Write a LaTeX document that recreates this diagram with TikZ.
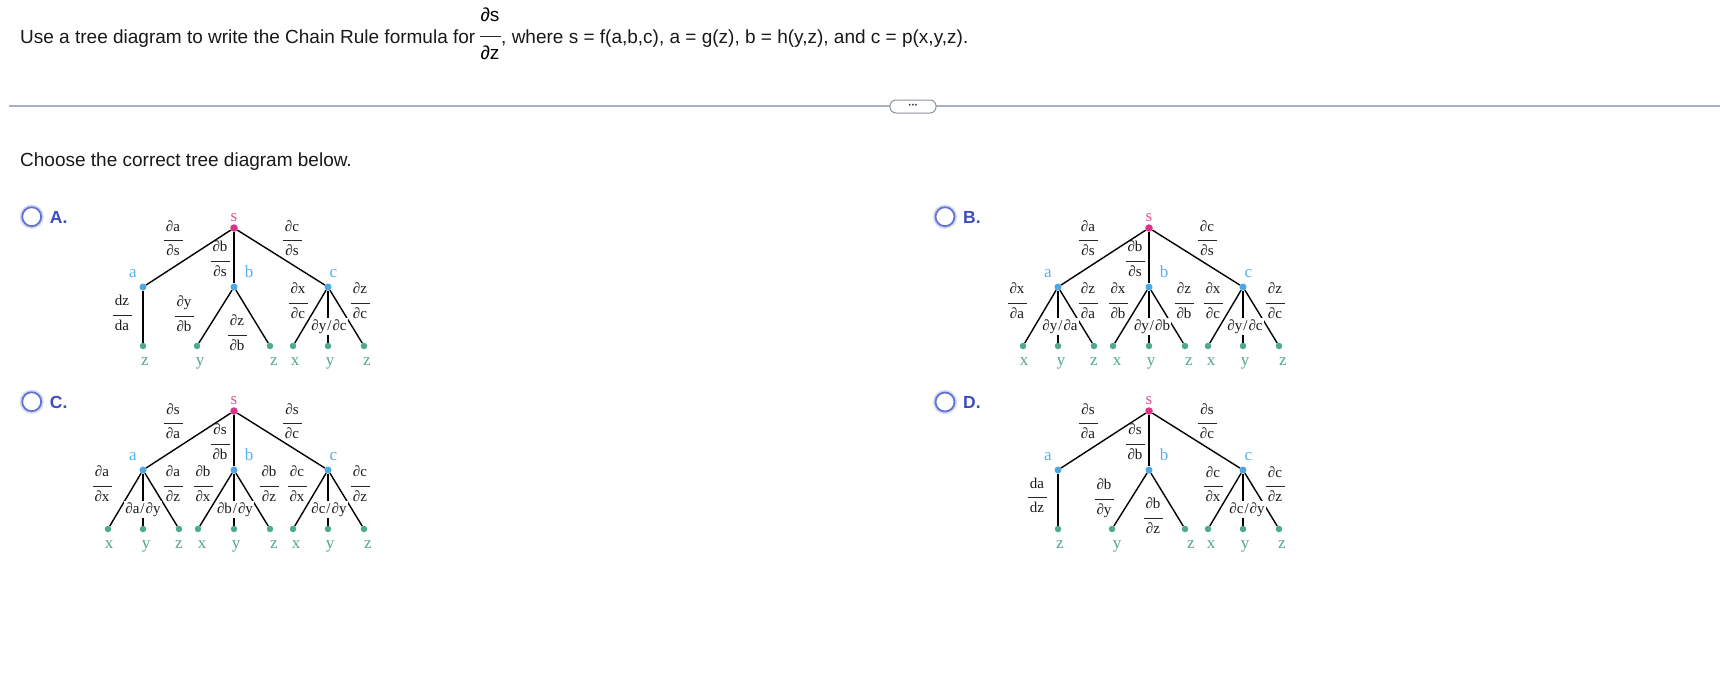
\documentclass[tikz,border=0pt]{standalone}
\usepackage{fontspec}
\setmainfont{Liberation Serif}
\newfontfamily\arialf{Liberation Sans}
\usetikzlibrary{calc}
\definecolor{spink}{RGB}{218,52,134}
\definecolor{spinkt}{RGB}{228,80,152}
\definecolor{mblue}{RGB}{74,168,230}
\definecolor{mbluet}{RGB}{86,178,236}
\definecolor{lgreen}{RGB}{78,170,138}
\definecolor{lgreent}{RGB}{80,168,140}
\definecolor{radio}{RGB}{96,114,214}
\definecolor{radiohalo}{RGB}{212,218,243}
\definecolor{optc}{RGB}{60,78,190}
\definecolor{sepc}{RGB}{168,176,194}
\definecolor{btnc}{RGB}{140,146,160}
\tikzset{
  sdot/.style={circle,fill=spink,inner sep=0pt,minimum size=7.5pt},
  mdot/.style={circle,fill=mblue,inner sep=0pt,minimum size=7pt},
  ldot/.style={circle,fill=lgreen,inner sep=0pt,minimum size=6.5pt},
  edge/.style={line width=1.4pt,black},
  fbar/.style={line width=0.8pt,black!85},
  elab/.style={font=\fontsize{15}{15}\selectfont,inner sep=0pt,text=black!90},
  ilab/.style={elab,fill=white,inner sep=1pt},
  slab/.style={font=\fontsize{17}{17}\selectfont,inner sep=0pt,text=spinkt,anchor=base},
  mlab/.style={font=\fontsize{17}{17}\selectfont,inner sep=0pt,text=mbluet,anchor=base},
  llab/.style={font=\fontsize{17}{17}\selectfont,inner sep=0pt,text=lgreent,anchor=base},
  ttl/.style={font=\arialf\fontsize{19}{19}\selectfont,inner sep=0pt,anchor=base west,text=black!90},
  opt/.style={font=\arialf\bfseries\fontsize{17.5}{17.5}\selectfont,inner sep=0pt,anchor=base west,text=optc},
  radioring/.style={circle,draw=radio,line width=1.8pt,inner sep=0pt,minimum size=19pt},
}
\newcommand\efrac[5]{%
  \node[elab,anchor=base] (#1n) at (#2,#3-9.3) {#4};
  \node[elab,anchor=base] (#1d) at (#2,#3+15) {#5};
  \draw[fbar] (#2-9.5,#3) -- (#2+9.5,#3);
}
\newcommand\topnodes[1]{%
  \node[sdot] (#1s) at (0,0) {};
  \node[slab] (#1sl) at (0,-7) {s};
  \node[mdot] (#1a) at (-91,59) {};
  \node[mlab] (#1al) at (-101,49) {a};
  \node[mdot] (#1b) at (0,59) {};
  \node[mlab] (#1bl) at (15,49) {b};
  \node[mdot] (#1c) at (94,59) {};
  \node[mlab] (#1cl) at (99.5,49) {c};
  \draw[edge] (#1s) -- (#1a);
  \draw[edge] (#1s) -- (#1b);
  \draw[edge] (#1s) -- (#1c);
}
% leaf: prefix, name, parent, dot x, label x, letter
\newcommand\leaf[6]{%
  \node[ldot] (#1#2) at (#4,118) {};
  \node[llab] (#1#2t) at (#5,137) {#6};
  \draw[edge] (#1#3) -- (#1#2);
}
\newcommand\radiobtn[4]{% name, x, y, letter
  \node[circle,draw=radiohalo,line width=1.6pt,inner sep=0pt,minimum size=22.5pt] (#1h) at (#2,#3) {};
  \node[radioring] (#1r) at (#2,#3) {};
  \node[opt] (#1t) at (#2+18,#3+6.3) {#4.};
}
\begin{document}
\begin{tikzpicture}[x=1pt,y=-1pt]
\fill[white] (0,0) rectangle (1720,678);
\useasboundingbox (0,0) rectangle (1720,678);
% title
\node[ttl] (t1) at (20,43) {Use a tree diagram to write the Chain Rule formula for};
\node[font=\arialf\fontsize{19}{19}\selectfont,inner sep=0pt,anchor=base] (tfn) at (490,21.5) {∂s};
\node[font=\arialf\fontsize{19}{19}\selectfont,inner sep=0pt,anchor=base] (tfd) at (490,59.5) {∂z};
\draw[line width=0.9pt,black!85] (479.5,36) -- (500.5,36);
\node[ttl] (t2) at (501,43) {, where s = f(a,b,c), a = g(z), b = h(y,z), and c = p(x,y,z).};
% separator
\draw[sepc,line width=1.6pt] (9,106) -- (1720,106);
\node[draw=btnc,fill=white,line width=1pt,rounded corners=6pt,minimum width=46pt,minimum height=13pt,inner sep=0pt] (btn) at (913,106.5) {};
\node[inner sep=0pt,font=\arialf\fontsize{7}{7}\selectfont,text=black!75] (btnd) at (913,106) {\textbullet\kern0.6pt\textbullet\kern0.6pt\textbullet};
\node[ttl] (choose) at (20,166) {Choose the correct tree diagram below.};
% radio buttons
\radiobtn{rA}{31.7}{216.7}{A}
\radiobtn{rB}{945}{216.7}{B}
\radiobtn{rC}{31.7}{401.7}{C}
\radiobtn{rD}{945}{402}{D}
% ---------- Tree A
\begin{scope}[shift={(234,228)}]
\topnodes{A-}
\leaf{A-}{l1}{a}{-91}{-89}{z}
\leaf{A-}{l2}{b}{-37}{-34}{y}
\leaf{A-}{l3}{b}{36}{40}{z}
\leaf{A-}{l4}{c}{59}{61}{x}
\leaf{A-}{l5}{c}{94}{96}{y}
\leaf{A-}{l6}{c}{130}{133}{z}
\efrac{A-f1}{-61}{12.5}{∂a}{∂s}
\efrac{A-f2}{-14}{33}{∂b}{∂s}
\efrac{A-f3}{58}{12.5}{∂c}{∂s}
\efrac{A-f4}{-112}{87}{dz}{da}
\efrac{A-f5}{-50}{88}{∂y}{∂b}
\efrac{A-f6}{3}{107}{∂z}{∂b}
\efrac{A-f7}{64}{75}{∂x}{∂c}
\efrac{A-f8}{126}{75}{∂z}{∂c}
\node[ilab] (A-i1) at (95,98.5) {∂y\kern1pt/\kern1pt∂c};
\end{scope}
% ---------- Tree B
\begin{scope}[shift={(1149,228)}]
\topnodes{B-}
\leaf{B-}{l1}{a}{-126}{-125}{x}
\leaf{B-}{l2}{a}{-91}{-88}{y}
\leaf{B-}{l3}{a}{-55}{-55}{z}
\leaf{B-}{l4}{b}{-36}{-32}{x}
\leaf{B-}{l5}{b}{0}{2}{y}
\leaf{B-}{l6}{b}{36}{40}{z}
\leaf{B-}{l7}{c}{59}{62}{x}
\leaf{B-}{l8}{c}{94}{96}{y}
\leaf{B-}{l9}{c}{130}{134}{z}
\efrac{B-f1}{-61}{12.5}{∂a}{∂s}
\efrac{B-f2}{-14}{33}{∂b}{∂s}
\efrac{B-f3}{58}{12.5}{∂c}{∂s}
\efrac{B-f4}{-132}{75}{∂x}{∂a}
\efrac{B-f5}{-61}{75}{∂z}{∂a}
\efrac{B-f6}{-31}{75}{∂x}{∂b}
\efrac{B-f7}{35}{75}{∂z}{∂b}
\efrac{B-f8}{64}{75}{∂x}{∂c}
\efrac{B-f9}{126}{75}{∂z}{∂c}
\node[ilab] (B-i1) at (-89,98.5) {∂y\kern1pt/\kern1pt∂a};
\node[ilab] (B-i2) at (3,98.5) {∂y\kern1pt/\kern1pt∂b};
\node[ilab] (B-i3) at (96,98.5) {∂y\kern1pt/\kern1pt∂c};
\end{scope}
% ---------- Tree C
\begin{scope}[shift={(234,411)}]
\topnodes{C-}
\leaf{C-}{l1}{a}{-126}{-125}{x}
\leaf{C-}{l2}{a}{-91}{-88}{y}
\leaf{C-}{l3}{a}{-55}{-55}{z}
\leaf{C-}{l4}{b}{-36}{-32}{x}
\leaf{C-}{l5}{b}{0}{2}{y}
\leaf{C-}{l6}{b}{36}{40}{z}
\leaf{C-}{l7}{c}{59}{62}{x}
\leaf{C-}{l8}{c}{94}{96}{y}
\leaf{C-}{l9}{c}{130}{134}{z}
\efrac{C-f1}{-61}{12.5}{∂s}{∂a}
\efrac{C-f2}{-14}{33}{∂s}{∂b}
\efrac{C-f3}{58}{12.5}{∂s}{∂c}
\efrac{C-f4}{-132}{75}{∂a}{∂x}
\efrac{C-f5}{-61}{75}{∂a}{∂z}
\efrac{C-f6}{-31}{75}{∂b}{∂x}
\efrac{C-f7}{35}{75}{∂b}{∂z}
\efrac{C-f8}{63}{75}{∂c}{∂x}
\efrac{C-f9}{126}{75}{∂c}{∂z}
\node[ilab] (C-i1) at (-91,98.5) {∂a\kern1pt/\kern1pt∂y};
\node[ilab] (C-i2) at (1,98.5) {∂b\kern1pt/\kern1pt∂y};
\node[ilab] (C-i3) at (95,98.5) {∂c\kern1pt/\kern1pt∂y};
\end{scope}
% ---------- Tree D
\begin{scope}[shift={(1149,411)}]
\topnodes{D-}
\leaf{D-}{l1}{a}{-91}{-89}{z}
\leaf{D-}{l2}{b}{-37}{-32}{y}
\leaf{D-}{l3}{b}{36}{42}{z}
\leaf{D-}{l4}{c}{59}{62}{x}
\leaf{D-}{l5}{c}{94}{96}{y}
\leaf{D-}{l6}{c}{130}{133}{z}
\efrac{D-f1}{-61}{12.5}{∂s}{∂a}
\efrac{D-f2}{-14}{33}{∂s}{∂b}
\efrac{D-f3}{58}{12.5}{∂s}{∂c}
\efrac{D-f4}{-112}{86.5}{da}{dz}
\efrac{D-f5}{-45}{88}{∂b}{∂y}
\efrac{D-f6}{4}{107}{∂b}{∂z}
\efrac{D-f7}{64}{75.5}{∂c}{∂x}
\efrac{D-f8}{126}{75.5}{∂c}{∂z}
\node[ilab] (D-i1) at (98,98.5) {∂c\kern1pt/\kern1pt∂y};
\end{scope}
\end{tikzpicture}
\end{document}
